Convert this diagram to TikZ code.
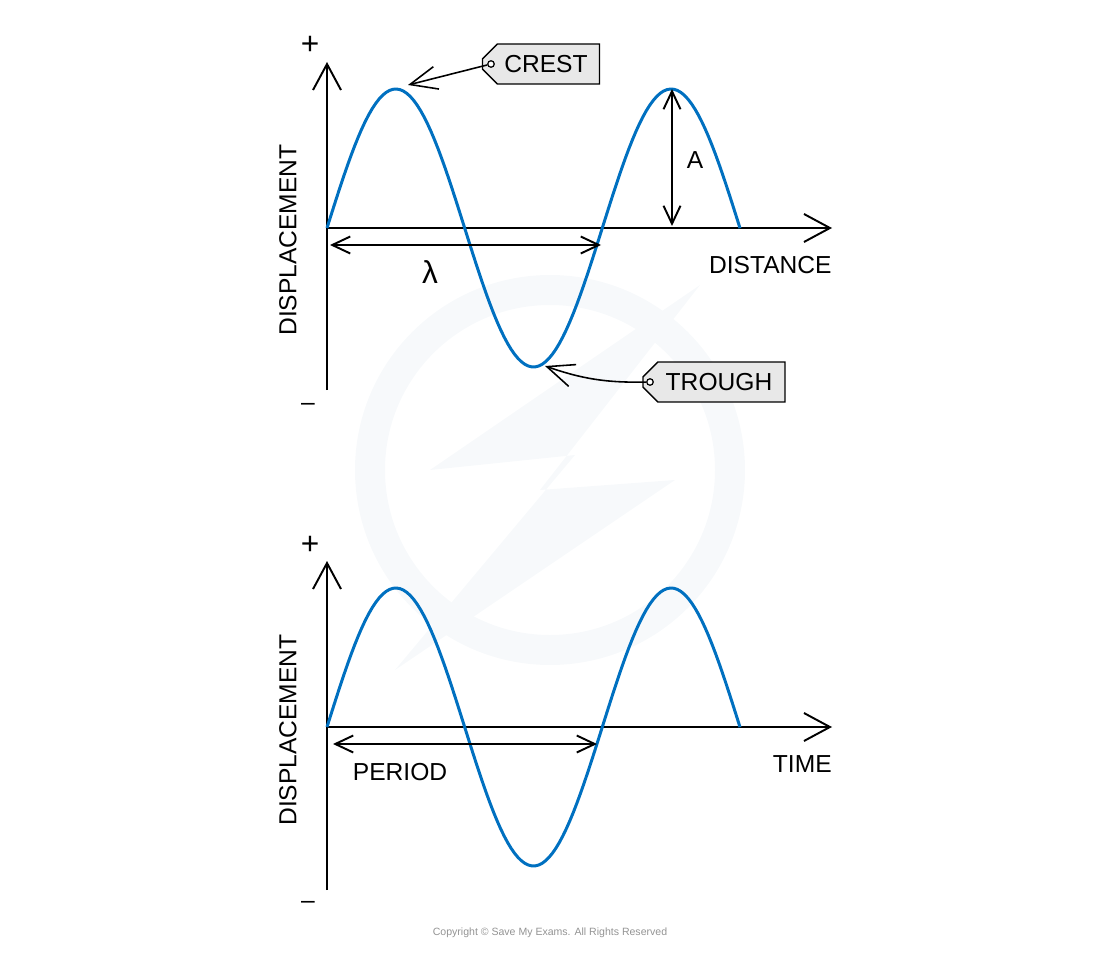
\documentclass[tikz,border=0pt]{standalone}
\usepackage{fontspec}
\setmainfont{Liberation Sans}
\usepackage{tikz}
\usetikzlibrary{arrows.meta,positioning,shapes.misc,calc}

\definecolor{waveblue}{RGB}{0,112,192}
\definecolor{tagfill}{RGB}{232,232,232}
\definecolor{markfill}{RGB}{247,249,251}

\tikzset{
  axis/.style={line width=1.1pt, -{Straight Barb[length=0.52cm,width=0.56cm,line width=1.1pt]}},
  span/.style={line width=1.1pt, {Straight Barb[length=0.36cm,width=0.34cm,line width=1.1pt]}-{Straight Barb[length=0.36cm,width=0.34cm,line width=1.1pt]}},
  pointer/.style={line width=0.9pt, -{Straight Barb[length=0.54cm,width=0.46cm,line width=0.9pt]}},
  wave/.style={waveblue, line width=1.7pt},
  lbl/.style={font=\fontsize{14}{16}\selectfont, inner sep=0pt},
  sign/.style={font=\fontsize{18}{20}\selectfont, inner sep=0pt},
  tagbox/.style={chamfered rectangle, chamfered rectangle corners={north west,south west},
    chamfered rectangle xsep=0.2cm, draw, fill=tagfill, line width=0.8pt,
    minimum height=0.8cm, font=\fontsize{14}{16}\selectfont, inner sep=0pt},
  hole/.style={circle, draw, fill=white, line width=0.7pt, inner sep=0pt, minimum size=0.13cm}
}

\begin{document}
\begin{tikzpicture}[x=0.02cm, y=-0.02cm]
  \useasboundingbox (0,0) rectangle (1100,953);

  % faint watermark
  \draw[markfill, line width=0.6cm] (550,470) circle (180);
  \fill[markfill] (700,285) -- (430,470) -- (575,455) -- (395,670) -- (675,480) -- (540,490) -- cycle;

  % ---- top graph: displacement against distance
  \coordinate (o1) at (327,228);
  \coordinate (ytop1) at (327,62);
  \coordinate (ybot1) at (327,390);
  \coordinate (xend1) at (832,228);
  \draw[axis] (ybot1) -- (ytop1);
  \draw[axis] (o1) -- (xend1);
  \draw[wave] plot[domain=0:413, samples=120] ({327+\x}, {228-139*sin(\x/275.3*360)});

  \node[sign] (plus1) at (310,45) {+};
  \node[lbl] (minus1) at (308,407) {\textendash};
  \node[lbl, rotate=90] (disp1) at (288,240) {DISPLACEMENT};
  \node[lbl, anchor=south east] (dist) at (832,274) {DISTANCE};

  \coordinate (l1) at (330,245);
  \coordinate (l2) at (601,245);
  \draw[span] (l1) -- (l2);
  \node[sign] (lambda) at (430,272) {λ};

  \coordinate (a1) at (672,89);
  \coordinate (a2) at (672,226);
  \draw[span] (a1) -- (a2);
  \node[lbl] (amp) at (695,160) {A};

  \node[tagbox, minimum width=2.34cm] (crest) at (541,64) {\hspace{0.2cm}CREST};
  \node[hole] (hcrest) at (491,64) {};
  \coordinate (peak) at (408,85);
  \draw[pointer] (hcrest) -- (peak);

  \node[tagbox, minimum width=2.84cm] (trough) at (714,382) {\hspace{0.2cm}TROUGH};
  \node[hole] (htrough) at (650,382) {};
  \coordinate (dip) at (545,366);
  \draw[pointer] (htrough) to[bend left=10] (dip);

  % ---- bottom graph: displacement against time
  \coordinate (o2) at (327,727);
  \coordinate (ytop2) at (327,561);
  \coordinate (ybot2) at (327,890);
  \coordinate (xend2) at (832,727);
  \draw[axis] (ybot2) -- (ytop2);
  \draw[axis] (o2) -- (xend2);
  \draw[wave] plot[domain=0:413, samples=120] ({327+\x}, {727-139*sin(\x/275.3*360)});

  \node[sign] (plus2) at (310,545) {+};
  \node[lbl] (minus2) at (308,905) {\textendash};
  \node[lbl, rotate=90] (disp2) at (288,730) {DISPLACEMENT};
  \node[lbl, anchor=south east] (time) at (832,773) {TIME};

  \coordinate (p1) at (333,744);
  \coordinate (p2) at (597,744);
  \draw[span] (p1) -- (p2);
  \node[lbl] (period) at (400,772) {PERIOD};

  \node[font=\fontsize{6}{7}\selectfont, text=gray!85] (copy) at (550,933)
    {Copyright © Save My Exams. All Rights Reserved};
\end{tikzpicture}
\end{document}
